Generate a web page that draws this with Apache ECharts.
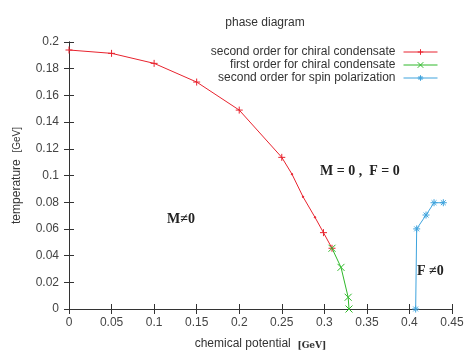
<!DOCTYPE html>
<html><head><meta charset="utf-8">
<script src="https://cdn.jsdelivr.net/npm/echarts@6/dist/echarts.min.js"></script>
<style>html,body{margin:0;padding:0;background:#fff}#c{width:474px;height:355px}</style>
</head><body><div id="c"></div>
<script>
const seriesNames = ['second order for chiral condensate','first order for chiral condensate','second order for spin polarization'];
const redX = [0, 0.05, 0.1, 0.15, 0.2, 0.25, 0.262, 0.275, 0.289, 0.299, 0.309];
const redY = [0.194, 0.1915, 0.184, 0.170, 0.149, 0.1136, 0.101, 0.084, 0.0687, 0.0572, 0.0455];
const redMarked = [1,1,1,1,1,1,0,0,0,1,1];
const greenX = [0.309, 0.3196, 0.328, 0.329];
const greenY = [0.0455, 0.0312, 0.0088, 0];
const blueX = [0.4073, 0.4085, 0.4195, 0.4289, 0.4398];
const blueY = [0, 0.06, 0.0704, 0.0796, 0.0796];
const xTicks = [0,0.05,0.1,0.15,0.2,0.25,0.3,0.35,0.4,0.45];
const yTicks = [0,0.02,0.04,0.06,0.08,0.1,0.12,0.14,0.16,0.18,0.2];

const colors = ['#e8232e','#2fb82a','#3ea3dd'];
const plus = 'path://M0,5L10,5M5,0L5,10';
const cross = 'path://M1,1L9,9M1,9L9,1';
const star = 'path://M0,5L10,5M5,0L5,10M1.5,1.5L8.5,8.5M1.5,8.5L8.5,1.5';
const font = 'Liberation Sans, Arial, sans-serif';

const chart = echarts.init(document.getElementById('c'));
function mk(xs, ys){ return xs.map((x,i)=>[x, ys[i]]); }
const axisLine = {show:true, lineStyle:{color:'#333', width:1}};
const tick = {show:true, inside:true, length:5, lineStyle:{color:'#333'}};
chart.setOption({
  animation:false,
  title:{text:'phase diagram', left:260, textAlign:'center', top:12,
    textStyle:{fontFamily:font, fontSize:12, fontWeight:'normal', color:'#333'}},
  grid:{left:69, right:22, top:42, bottom:46},
  legend:{data:seriesNames, right:31, top:41, orient:'vertical', align:'right',
    itemWidth:34, itemHeight:7, itemGap:1,
    lineStyle:{width:1}, itemStyle:{borderWidth:1},
    textStyle:{fontFamily:font, fontSize:12, color:'#333', padding:[0,3,0,0]}},
  xAxis:[{type:'value', min:0, max:0.45, interval:0.05, position:'bottom',
      axisLine, axisTick:tick, splitLine:{show:false},
      axisLabel:{fontFamily:font, fontSize:12, color:'#444', margin:8,
        formatter:v=>String(+v.toFixed(2))},
      name:'{a|chemical potential}  {b|[GeV]}', nameLocation:'middle', nameGap:28,
      nameTextStyle:{rich:{a:{fontFamily:font,fontSize:12,color:'#333'},
        b:{fontFamily:'DejaVu Serif, serif',fontSize:9,fontWeight:'bold',color:'#333',padding:[4,0,0,0]}}}},
    {type:'value', min:0, max:0.45, interval:0.05, position:'top',
      axisLine, axisTick:tick, axisLabel:{show:false}, splitLine:{show:false}}],
  yAxis:[{type:'value', min:0, max:0.2, interval:0.02, position:'left',
      axisLine, axisTick:tick, splitLine:{show:false},
      axisLabel:{fontFamily:font, fontSize:12, color:'#444', margin:10,
        formatter:v=>String(+v.toFixed(2))},
      name:'{a|temperature}  {b|[GeV]}', nameLocation:'middle', nameGap:46, nameRotate:90,
      nameTextStyle:{rich:{a:{fontFamily:font,fontSize:12,color:'#333'},
        b:{fontFamily:font,fontSize:10,color:'#333'}}}},
    {type:'value', min:0, max:0.2, interval:0.02, position:'right',
      axisLine, axisTick:tick, axisLabel:{show:false}, splitLine:{show:false}}],
  series:[
    {name:seriesNames[0], type:'line', data:mk(redX, redY).map((p,i)=>({value:p, symbolSize: redMarked[i]?7:1.5, symbol: redMarked[i]?plus:'circle'})),
      symbol:plus, symbolSize:7, showAllSymbol:true,
      lineStyle:{color:colors[0], width:1}, itemStyle:{color:colors[0], borderColor:colors[0], borderWidth:1}},
    {name:seriesNames[1], type:'line', data:mk(greenX, greenY), symbol:cross, symbolSize:7, showAllSymbol:true,
      lineStyle:{color:colors[1], width:1}, itemStyle:{color:colors[1], borderColor:colors[1], borderWidth:1}},
    {name:seriesNames[2], type:'line', data:mk(blueX, blueY), symbol:star, symbolSize:7, showAllSymbol:true,
      lineStyle:{color:colors[2], width:1}, itemStyle:{color:colors[2], borderColor:colors[2], borderWidth:1}}
  ],
  graphic:[
    {type:'text', left:167, top:212, style:{text:'M≠0', font:'bold 14px "Liberation Serif", serif', fill:'#222'}},
    {type:'text', left:320, top:164, style:{text:'M = 0 ,  F = 0', font:'bold 14px "Liberation Serif", serif', fill:'#222'}},
    {type:'text', left:417, top:264, style:{text:'F ≠0', font:'bold 14px "Liberation Serif", serif', fill:'#222'}}
  ]
});
</script></body></html>
